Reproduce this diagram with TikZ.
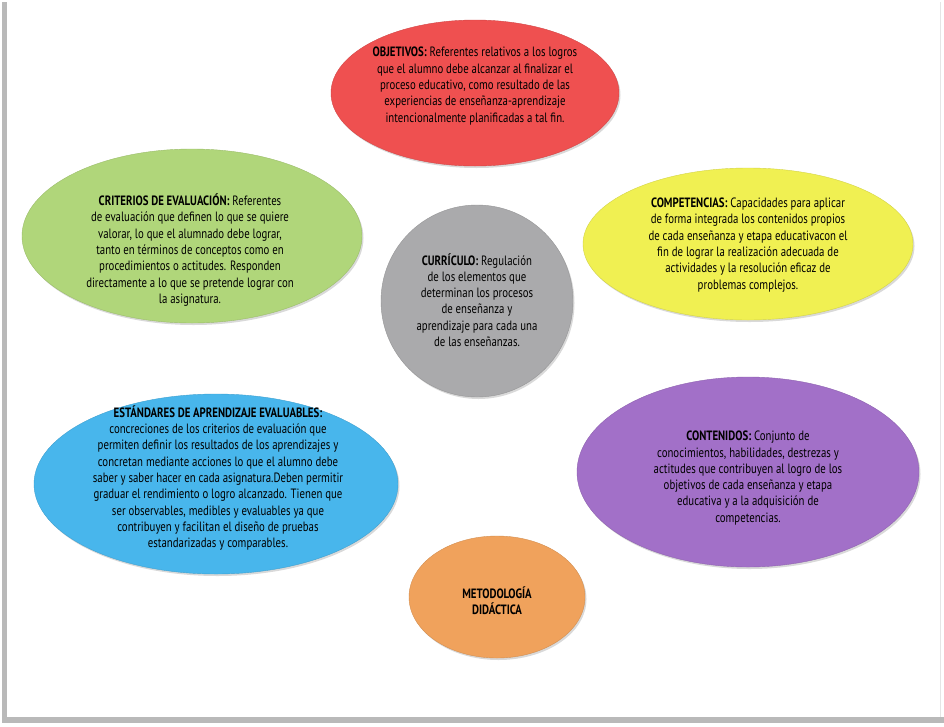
\documentclass[tikz,border=0pt]{standalone}
\usepackage{fontspec}
\setmainfont[FakeStretch=0.8]{PT Sans}
\usetikzlibrary{shapes.geometric,positioning,shadows}
\definecolor{objred}{RGB}{239,80,80}
\definecolor{crigreen}{RGB}{176,214,122}
\definecolor{curgray}{RGB}{170,170,172}
\definecolor{comyellow}{RGB}{240,240,82}
\definecolor{estblue}{RGB}{72,182,236}
\definecolor{conpurple}{RGB}{162,112,200}
\definecolor{metorange}{RGB}{240,162,92}
\tikzset{
	every path/.style = {thin},
	blob/.style={ellipse, fill=#1, draw=#1!88!black, inner sep=0pt,
		drop shadow={opacity=0.3, shadow xshift=1.5pt, shadow yshift=-2pt}},
	txt/.style={align=center, inner sep=0pt, font=\fontsize{13.5}{16.3}\selectfont}
}
\begin{document}
\begin{tikzpicture}[x=1pt, y=-1pt]
		\useasboundingbox (0,0) rectangle (944,726);
		% page edges
		\fill[gray!55] (2,2) rectangle (7,723);
		\fill[gray!55] (2,717) rectangle (944,723);
		\draw[gray!20] (940,2) -- (940,717);

		\node[blob=curgray, minimum width=192pt, minimum height=192pt] (cur) at (477,301) {};
		\node[blob=objred, minimum width=288pt, minimum height=146pt] (obj) at (475,93) {};
		\node[blob=crigreen, minimum width=340pt, minimum height=174pt] (cri) at (192,236) {};
		\node[blob=comyellow, minimum width=330pt, minimum height=152pt] (com) at (748,244) {};
		\node[blob=estblue, minimum width=364pt, minimum height=180pt] (est) at (216,484) {};
		\node[blob=conpurple, minimum width=342pt, minimum height=190pt] (con) at (748,472) {};
		\node[blob=metorange, minimum width=176pt, minimum height=122pt] (met) at (497,597) {};

		\node[txt] (objtext) at (475,86) {\textbf{OBJETIVOS:} Referentes relativos a los logros\\
			que el alumno debe alcanzar al finalizar el\\ proceso educativo, como resultado de las\\
			experiencias de enseñanza-aprendizaje\\ intencionalmente planificadas a tal fin.};
		\node[txt] (critext) at (190,250) {\textbf{CRITERIOS DE EVALUACIÓN:} Referentes\\
			de evaluación que definen lo que se quiere\\ valorar, lo que el alumnado debe lograr,\\
			tanto en términos de conceptos como en\\ procedimientos o actitudes. Responden\\
			directamente a lo que se pretende lograr con\\ la asignatura.};
		\node[txt] (curtext) at (477,300) {\textbf{CURRÍCULO:} Regulación\\ de los elementos que\\
			determinan los procesos\\ de enseñanza y\\ aprendizaje para cada una\\ de las enseñanzas.};
		\node[txt] (comtext) at (748,245) {\textbf{COMPETENCIAS:} Capacidades para aplicar\\
			de forma integrada los contenidos propios\\ de cada enseñanza y etapa educativacon el\\
			fin de lograr la realización adecuada de\\ actividades y la resolución eficaz de\\
			problemas complejos.};
		\node[txt] (esttext) at (218,478) {\textbf{ESTÁNDARES DE APRENDIZAJE EVALUABLES:}\\
			concreciones de los criterios de evaluación que\\
			permiten definir los resultados de los aprendizajes y\\
			concretan mediante acciones lo que el alumno debe\\
			saber y saber hacer en cada asignatura.Deben permitir\\
			graduar el rendimiento o logro alcanzado. Tienen que\\
			ser observables, medibles y evaluables ya que\\
			contribuyen y facilitan el diseño de pruebas\\ estandarizadas y comparables.};
		\node[txt] (context) at (748,478) {\textbf{CONTENIDOS:} Conjunto de\\
			conocimientos, habilidades, destrezas y\\ actitudes que contribuyen al logro de los\\
			objetivos de cada enseñanza y etapa\\ educativa y a la adquisición de\\ competencias.};
		\node[txt] (mettext) at (497,601) {\textbf{METODOLOGÍA}\\ \textbf{DIDÁCTICA}};
	\end{tikzpicture}
\end{document}
